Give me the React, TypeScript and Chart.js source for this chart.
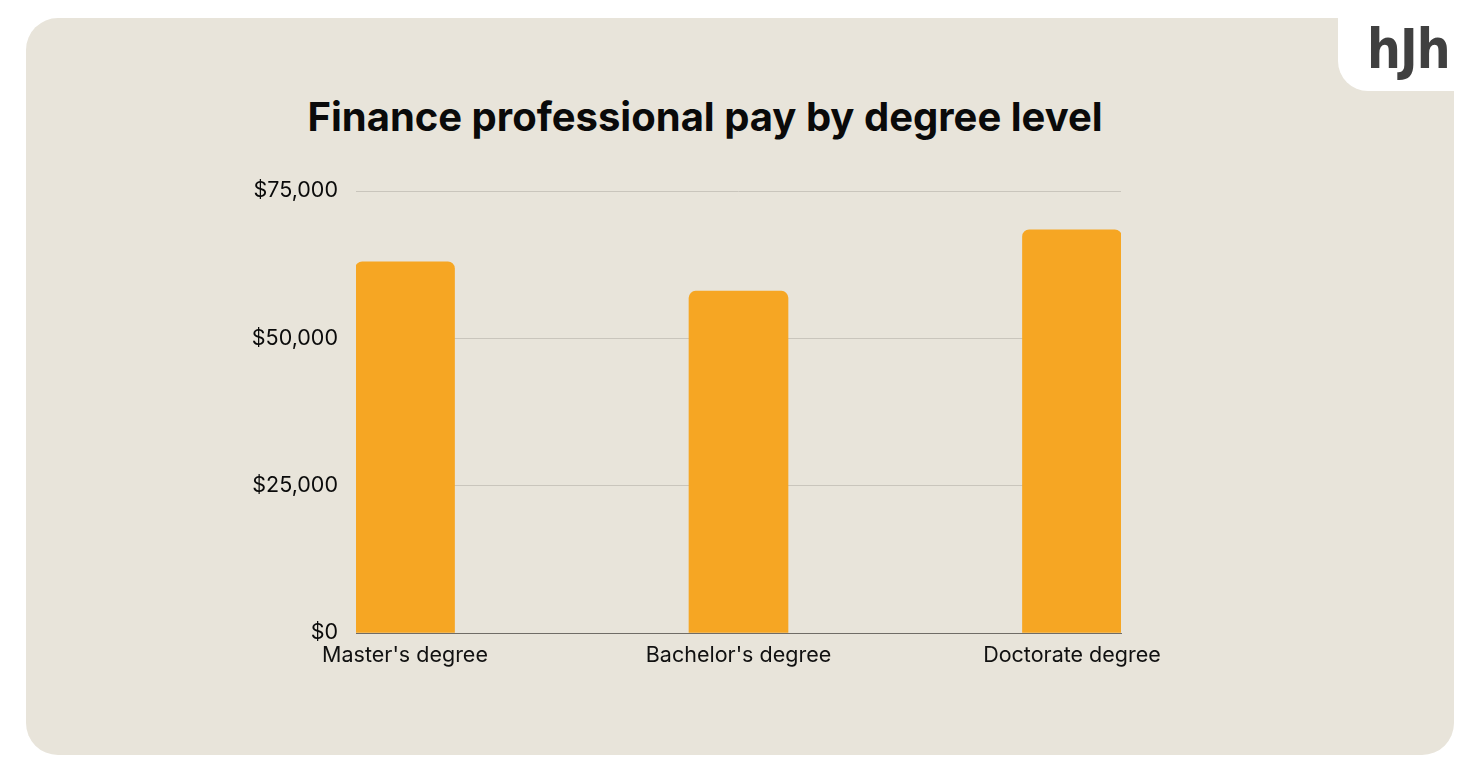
import React, { useEffect, useRef } from "react";
import { Chart, registerables } from "chart.js";

Chart.register(...registerables);

const categories = ["Master's degree", "Bachelor's degree", "Doctorate degree"];
const payValues = [63000, 58000, 68400];
const yTickValues = [0, 25000, 50000, 75000];
const titleText = "Finance professional pay by degree level";
const logoText = "hJh";

const LABEL_FONT = "Inter, 'Open Sans', sans-serif";

export default function App() {
  const canvasRef = useRef<HTMLCanvasElement | null>(null);

  useEffect(() => {
    const canvas = canvasRef.current;
    if (!canvas) return;
    const chart = new Chart(canvas, {
      type: "bar",
      data: {
        datasets: [
          {
            data: payValues.map((v, i) => ({ x: i, y: v })),
            backgroundColor: "#F6A623",
            borderRadius: { topLeft: 7, topRight: 7, bottomLeft: 0, bottomRight: 0 },
            borderSkipped: "bottom",
            barThickness: 99,
          },
        ],
      },
      options: {
        responsive: false,
        maintainAspectRatio: false,
        animation: false,
        layout: { padding: { left: 150, right: 1480 - 1121, top: 191, bottom: 774 - 633 - 60 } },
        plugins: {
          legend: { display: false },
          tooltip: { enabled: false },
          title: { display: false },
        },
        scales: {
          x: {
            type: "linear",
            offset: false,
            min: -0.147,
            max: 2.147,
            afterBuildTicks: (scale: any) => {
              scale.ticks = categories.map((_, i) => ({ value: i }));
            },
            afterFit: (scale: any) => {
              scale.height = 60;
            },
            grid: { display: false, drawTicks: false },
            border: { display: true, color: "#6f6c66", width: 1 },
            ticks: {
              padding: 10,
              color: "#111111",
              font: { family: LABEL_FONT, size: 21.5 },
              maxRotation: 0,
              autoSkip: false,
              callback: (v: any) => categories[Math.round(Number(v))] ?? "",
            },
          },
          y: {
            min: 0,
            max: 75000,
            afterBuildTicks: (scale: any) => {
              scale.ticks = yTickValues.map((v) => ({ value: v }));
            },
            afterFit: (scale: any) => {
              scale.width = 356 - 150;
            },
            grid: {
              drawTicks: false,
              color: (ctx: any) => (ctx.tick && ctx.tick.value === 0 ? "#6f6c66" : "#c9c5bc"),
              lineWidth: 1,
            },
            border: { display: false },
            ticks: {
              padding: 18,
              color: "#0a0a0a",
              font: { family: LABEL_FONT, size: 21.5 },
              callback: (v: any) => "$" + Number(v).toLocaleString("en-US"),
            },
          },
        },
      },
    });
    return () => chart.destroy();
  }, []);

  return (
    <div style={{ position: "absolute", left: 0, top: 0, width: 1480, height: 774, background: "#ffffff", overflow: "hidden" }}>
      <div
        style={{
          position: "absolute",
          left: 26,
          top: 18,
          width: 1454 - 26,
          height: 755 - 18,
          background: "#E8E4DA",
          borderRadius: 32,
        }}
      />
      <div
        style={{
          position: "absolute",
          left: 1338,
          top: 0,
          width: 142,
          height: 91,
          background: "#ffffff",
          borderBottomLeftRadius: 30,
        }}
      />
      <div
        style={{
          position: "absolute",
          left: 1360,
          top: 14,
          width: 92,
          textAlign: "center",
          fontFamily: "'DejaVu Sans', sans-serif",
          fontWeight: 700,
          fontSize: 56,
          lineHeight: "70px",
          color: "#404040",
          transform: "scaleX(0.85)",
          transformOrigin: "center",
          letterSpacing: -1,
        }}
      >
        {logoText}
      </div>
      <div
        style={{
          position: "absolute",
          left: 0,
          top: 90,
          width: 1410,
          textAlign: "center",
          fontFamily: LABEL_FONT,
          fontWeight: 700,
          fontSize: 40,
          lineHeight: "54px",
          color: "#0a0a0a",
        }}
      >
        {titleText}
      </div>
      <canvas ref={canvasRef} width={1480} height={774} style={{ position: "absolute", left: 0, top: 0, width: 1480, height: 774 }} />
    </div>
  );
}
